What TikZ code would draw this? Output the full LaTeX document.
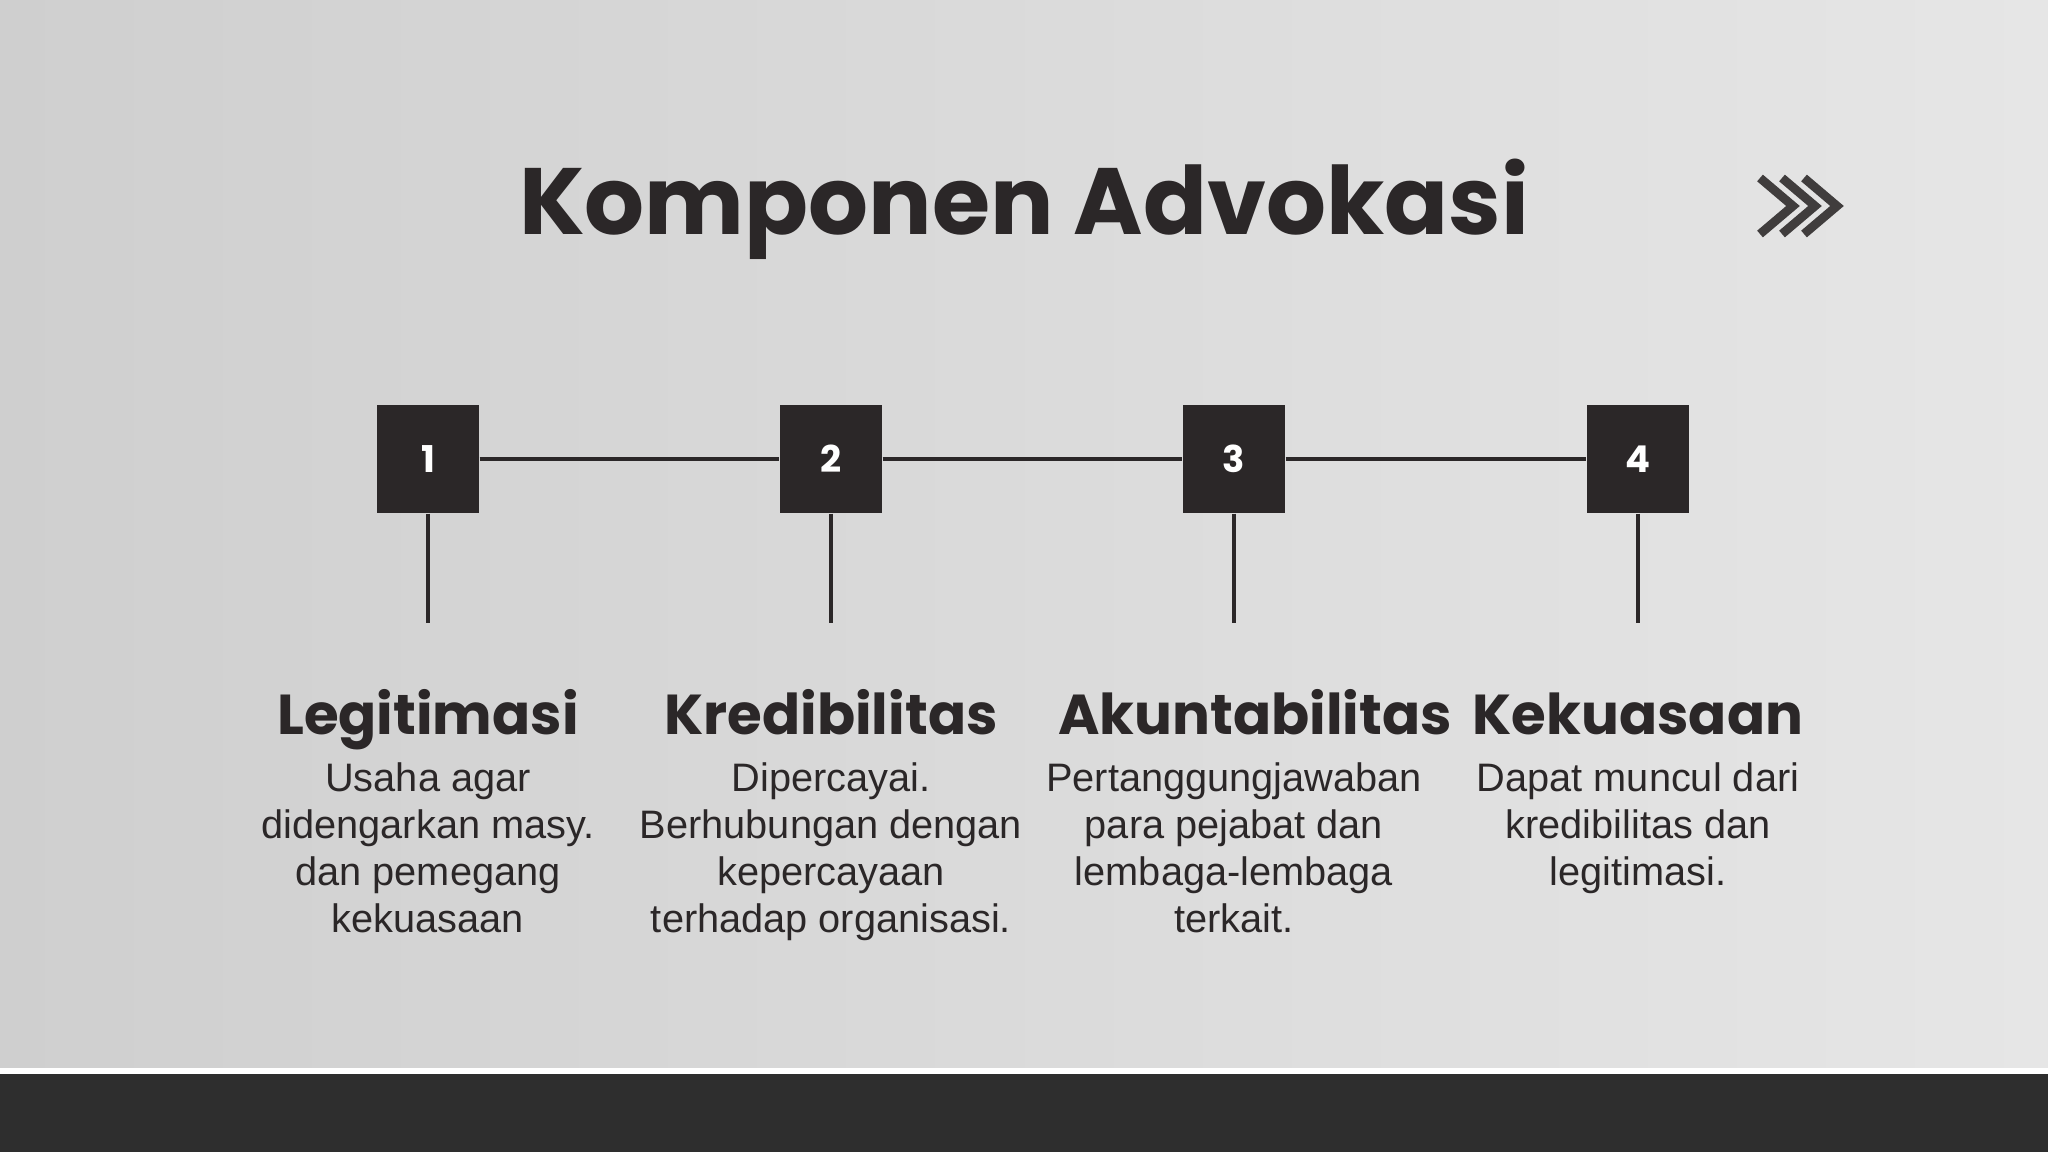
\documentclass[tikz,border=0pt]{standalone}
\usepackage{fontspec}
\setmainfont{Liberation Sans}
\newfontfamily\headfont{Poppins}
\definecolor{ink}{HTML}{2B2728}
\definecolor{bgleft}{HTML}{CFCFCF}
\definecolor{bgright}{HTML}{E6E6E6}
\definecolor{band}{HTML}{2E2E2E}
\tikzset{
  stepbox/.style={fill=ink, minimum width=1.02cm, minimum height=1.08cm, inner sep=0pt, text=white, font=\headfont\bfseries\fontsize{10.5}{12}\selectfont},
  head/.style={anchor=base, inner sep=0pt, text=ink, font=\headfont\bfseries\fontsize{16}{19}\selectfont},
  desc/.style={anchor=north, inner sep=0pt, align=center, text=ink, font=\fontsize{11.3}{13.4}\selectfont},
  link/.style={draw=ink, line width=1.2pt},
  chev/.style={draw=ink!90, line width=2.5pt, line join=miter}
}

\begin{document}
\begin{tikzpicture}[x=0.01cm, y=-0.01cm]
  \useasboundingbox (0,0) rectangle (2048,1152);
  % background and bottom band
  \shade[left color=bgleft, right color=bgright] (0,0) rectangle (2048,1070);
  \fill[white] (0,1068) rectangle (2048,1074);
  \fill[band] (0,1074) rectangle (2048,1152);

  \node[anchor=base, text=ink, font=\headfont\bfseries\fontsize{26.8}{32}\selectfont] (title) at (1024,235) {Komponen Advokasi};
  \foreach \t in {1793,1815,1837}
    \draw[chev] (\t-33,178) -- (\t,206) -- (\t-33,234);

  \node[stepbox] (num1) at (428,459) {1};
  \node[stepbox] (num2) at (831,459) {2};
  \node[stepbox] (num3) at (1234,459) {3};
  \node[stepbox] (num4) at (1638,459) {4};

  \draw[link] (num1) -- (num2);
  \draw[link] (num2) -- (num3);
  \draw[link] (num3) -- (num4);

  \coordinate (stem1) at (428,623);
  \coordinate (stem2) at (831,623);
  \coordinate (stem3) at (1234,623);
  \coordinate (stem4) at (1638,623);
  \foreach \i in {1,...,4}
    \draw[link, line width=1.4pt] (num\i.south) -- (stem\i);

  \node[head] (hd1) at (428,734) {Legitimasi};
  \node[head] (hd2) at (831,734) {Kredibilitas};
  \node[head] (hd3) at (1255,734) {Akuntabilitas};
  \node[head] (hd4) at (1638,734) {Kekuasaan};

  \node[desc] (txt1) at (428,762) {Usaha agar\\didengarkan masy.\\dan pemegang\\kekuasaan};
  \node[desc] (txt2) at (831,762) {Dipercayai.\\Berhubungan dengan\\kepercayaan\\terhadap organisasi.};
  \node[desc] (txt3) at (1234,762) {Pertanggungjawaban\\para pejabat dan\\lembaga-lembaga\\terkait.};
  \node[desc] (txt4) at (1638,762) {Dapat muncul dari\\kredibilitas dan\\legitimasi.};
\end{tikzpicture}
\end{document}
